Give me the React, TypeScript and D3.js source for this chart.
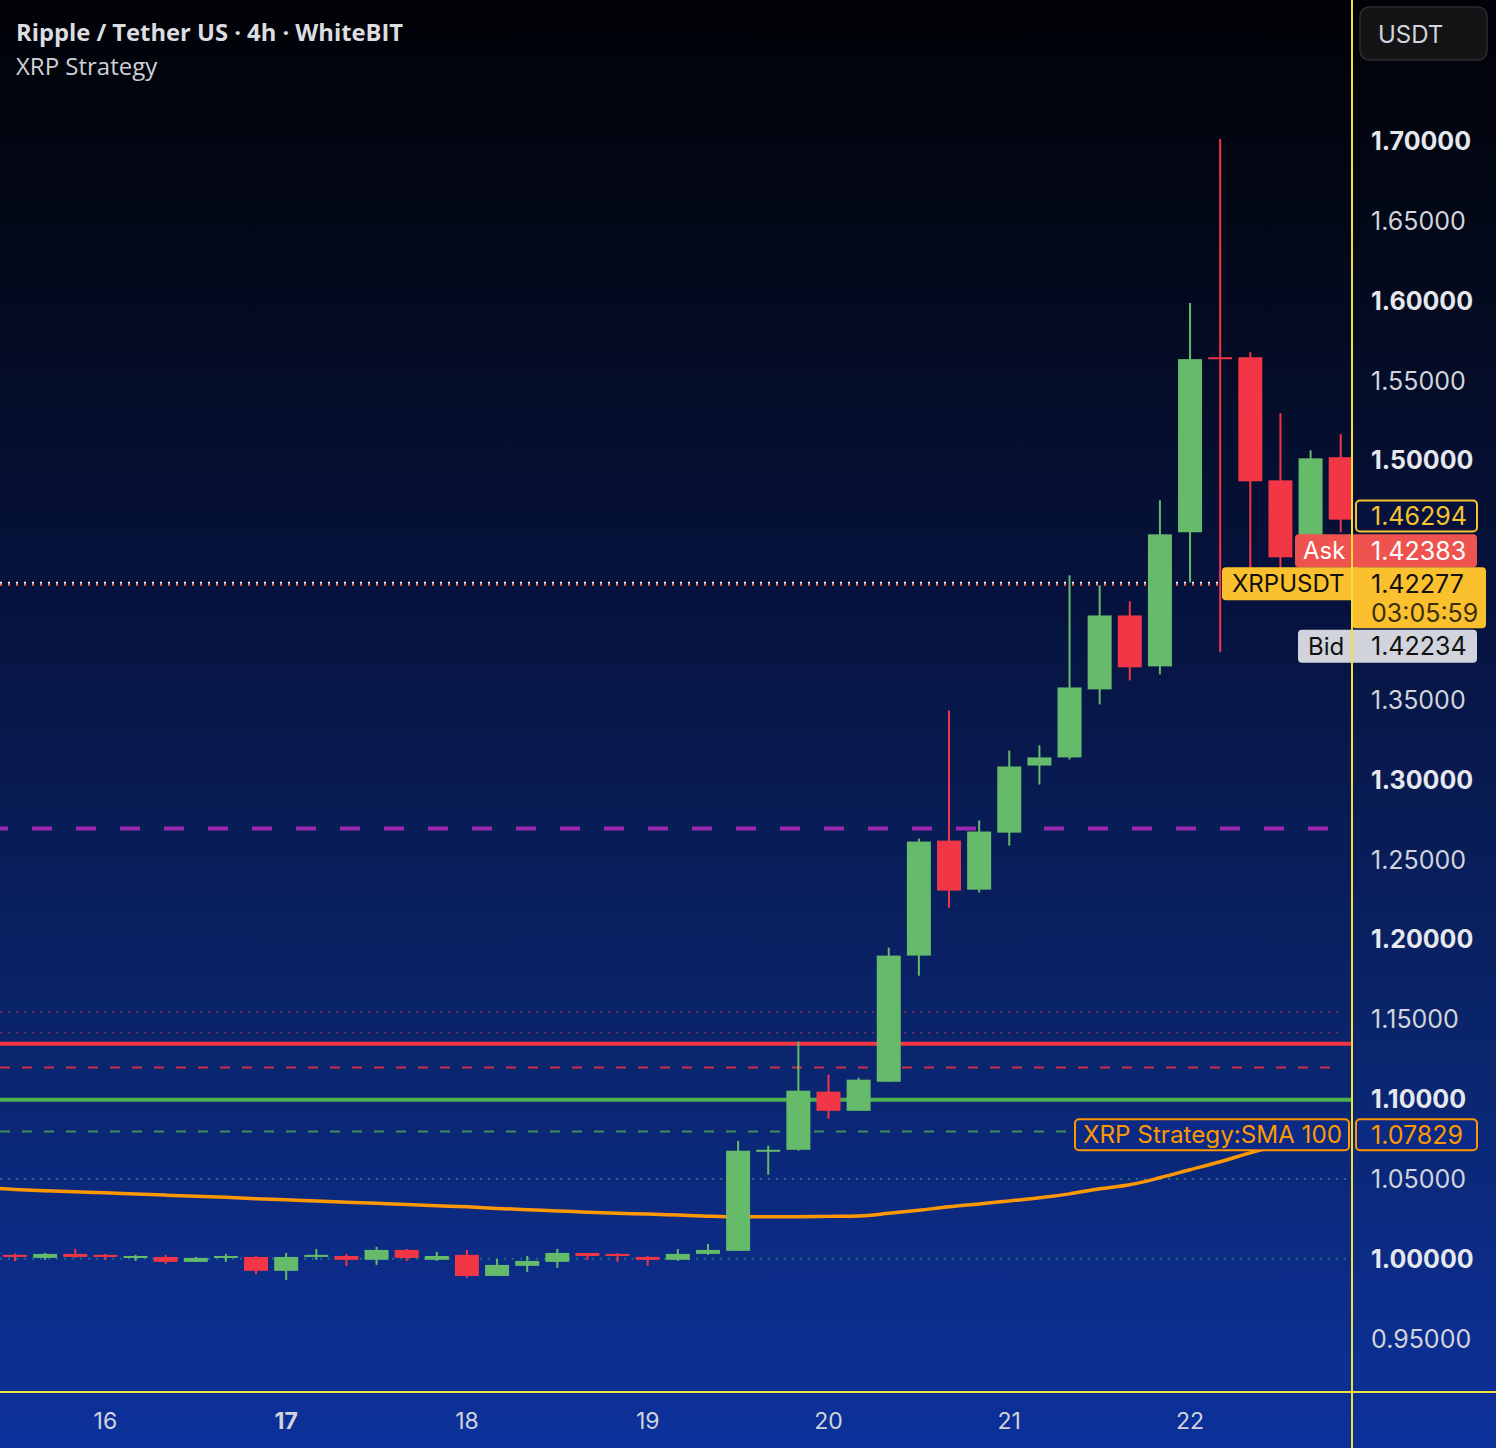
import * as d3 from 'd3';

const VW = 1496;
const VH = 1448;
const PLOT_R = 1352;
const PLOT_B = 1392;

// 4h candles, index 0 = 15th 12:00
const OPEN = [
  1.0025, 1.0006, 1.0031, 1.0025, 1.0006, 1.0012, 0.9981, 1.0006, 1.0012, 0.9925,
  1.0012, 1.0018, 0.9994, 1.0056, 0.9994, 1.0025, 0.9893, 0.9956, 0.9981, 1.0037,
  1.0031, 1.0012, 0.9994, 1.0031, 1.0050, 1.0671, 1.0683, 1.1047, 1.0927, 1.1109,
  1.1899, 1.2619, 1.2312, 1.2669, 1.3089, 1.3140, 1.3566, 1.4029, 1.3710, 1.4550,
  1.5646, 1.5646, 1.4875, 1.4400, 1.5020,
];
const HIGH = [
  1.0033, 1.0037, 1.0062, 1.0031, 1.0025, 1.0025, 1.0012, 1.0031, 1.0018, 1.0037,
  1.0062, 1.0031, 1.0075, 1.0062, 1.0044, 1.0056, 1.0000, 1.0018, 1.0062, 1.0037,
  1.0037, 1.0018, 1.0062, 1.0094, 1.0739, 1.0708, 1.1360, 1.1153, 1.1134, 1.1949,
  1.2632, 1.3434, 1.2745, 1.3183, 1.3215, 1.4280, 1.4217, 1.4117, 1.4750, 1.5985,
  1.7013, 1.5678, 1.5295, 1.5063, 1.5164,
];
const LOW = [
  0.9987, 0.9994, 1.0006, 0.9994, 0.9987, 0.9968, 0.9981, 0.9981, 0.9906, 0.9868,
  0.9994, 0.9956, 0.9962, 0.9987, 0.9987, 0.9881, 0.9893, 0.9918, 0.9944, 0.9994,
  0.9981, 0.9956, 0.9987, 1.0025, 1.0050, 1.0527, 1.0677, 1.0877, 1.0927, 1.1109,
  1.1773, 1.2199, 1.2294, 1.2588, 1.2970, 1.3127, 1.3472, 1.3622, 1.3660, 1.4236,
  1.3798, 1.4324, 1.4324, 1.4380, 1.4550,
];
const CLOSE = [
  1.0012, 1.0031, 1.0012, 1.0012, 1.0018, 0.9981, 1.0006, 1.0018, 0.9925, 1.0012,
  1.0025, 0.9994, 1.0056, 1.0006, 1.0018, 0.9893, 0.9962, 0.9987, 1.0037, 1.0018,
  1.0018, 0.9994, 1.0031, 1.0056, 1.0677, 1.0683, 1.1053, 1.0927, 1.1122, 1.1899,
  1.2613, 1.2306, 1.2676, 1.3083, 1.3140, 1.3578, 1.4029, 1.3704, 1.4537, 1.5634,
  1.5634, 1.4869, 1.4393, 1.5013, 1.4629,
];

// SMA 100, one value per candle, starting one bar before the first visible candle
const SMA = [
  1.0445,
  1.0435, 1.0427, 1.0420, 1.0414, 1.0406, 1.0399, 1.0392, 1.0385, 1.0377, 1.0370,
  1.0363, 1.0355, 1.0348, 1.0341, 1.0333, 1.0326, 1.0316, 1.0308, 1.0300, 1.0292,
  1.0285, 1.0281, 1.0274, 1.0267, 1.0263, 1.0263, 1.0264, 1.0266, 1.0269, 1.0285,
  1.0304, 1.0326, 1.0344, 1.0363, 1.0382, 1.0407, 1.0439, 1.0464, 1.0508, 1.0558,
  1.0608, 1.0664, 1.0714, 1.0752, 1.0783,
];

// 1.40 and 1.45 sit under the price tags, so they are not shown
const PRICE_TICKS = [0.95, 1.0, 1.05, 1.1, 1.15, 1.2, 1.25, 1.3, 1.35, 1.5, 1.55, 1.6, 1.65, 1.7];
const DAY_LABELS = ['16', '17', '18', '19', '20', '21', '22'];
const DAY_INDEX = [3, 9, 15, 21, 27, 33, 39];

const LEVEL_PURPLE = 1.2695;
const LEVEL_DOT_1 = 1.1548;
const LEVEL_DOT_2 = 1.1416;
const LEVEL_RED = 1.1347;
const LEVEL_RED_DASH = 1.1199;
const LEVEL_GREEN = 1.0996;
const LEVEL_GREEN_DASH = 1.0798;
const LEVEL_TEAL = [1.05, 1.0];

const LAST_PRICE = 1.46294;
const ASK = 1.42383;
const XRPUSDT = 1.42277;
const BID = 1.42234;
const SMA_LAST = 1.07829;

const GREEN = '#66bb6a';
const RED = '#f23645';
const YELLOW = '#f5de3c';
const ORANGE = '#ff9800';
const AXIS_TXT = '#d1d4dc';
const NUM_FONT = 'Inter, "Noto Sans", sans-serif';
const TITLE_FONT = '"Open Sans", "Noto Sans", sans-serif';
const FS = 25;

const x = d3.scaleLinear().domain([0, 44]).range([15, 1340.7]);
const y = d3.scaleLinear().domain([0.95, 1.7]).range([1338.7, 141]);
const BODY_W = 24;

const smaLine = d3.line<number>()
  .x((_, i) => x(i - 1))
  .y(d => y(d))
  .curve(d3.curveMonotoneX);

const fmt = d3.format('.5f');

function Tag({ left, right, cy, fill, h = 33, stroke }: {
  left: number; right: number; cy: number; fill: string; h?: number; stroke?: string;
}) {
  return (
    <rect x={left} y={cy - h / 2} width={right - left} height={h} rx={4}
      fill={fill} stroke={stroke ?? 'none'} strokeWidth={stroke ? 2 : 0} />
  );
}

function Label({ x0, cy, fill, children, weight = 400, size = FS }: {
  x0: number; cy: number; fill: string; children: React.ReactNode; weight?: number; size?: number;
}) {
  return (
    <text x={x0} y={cy} dy="0.36em" fontSize={size} fontFamily={NUM_FONT} fontWeight={weight} fill={fill}>
      {children}
    </text>
  );
}

export default function App() {
  const idx = d3.range(OPEN.length);
  const lastY = y(LAST_PRICE) - 3.5;
  const xrpY = y(XRPUSDT);
  const askY = xrpY - 33;
  const bidY = xrpY + 62.5;
  const smaY = y(SMA_LAST) + 1;
  return (
    <svg width={VW} height={VH} viewBox={`0 0 ${VW} ${VH}`}
      style={{ position: 'absolute', left: 0, top: 0, display: 'block' }}>
      <defs>
        <linearGradient id="bg" x1="0" y1="0" x2="0" y2={VH} gradientUnits="userSpaceOnUse">
          <stop offset="0" stopColor="#010207" />
          <stop offset="0.15" stopColor="#030817" />
          <stop offset="0.42" stopColor="#06133f" />
          <stop offset="0.7" stopColor="#0a2469" />
          <stop offset="1" stopColor="#0c319b" />
        </linearGradient>
        <clipPath id="plot">
          <rect x={0} y={0} width={PLOT_R} height={PLOT_B} />
        </clipPath>
      </defs>
      <rect x={0} y={0} width={VW} height={VH} fill="url(#bg)" />

      <g clipPath="url(#plot)">
        {/* horizontal levels */}
        {LEVEL_TEAL.map(p => (
          <line key={p} x1={0} x2={PLOT_R} y1={y(p)} y2={y(p)} stroke="#1d6a78" strokeWidth={2} strokeDasharray="2 6" />
        ))}
        <line x1={0} x2={1340} y1={y(LEVEL_DOT_1)} y2={y(LEVEL_DOT_1)} stroke="#7a2a5e" strokeWidth={2} strokeDasharray="2 6" />
        <line x1={0} x2={1340} y1={y(LEVEL_DOT_2)} y2={y(LEVEL_DOT_2)} stroke="#7a2a5e" strokeWidth={2} strokeDasharray="2 6" />
        <line x1={0} x2={PLOT_R} y1={y(LEVEL_RED)} y2={y(LEVEL_RED)} stroke={RED} strokeWidth={4} />
        <line x1={0} x2={1340} y1={y(LEVEL_RED_DASH)} y2={y(LEVEL_RED_DASH)} stroke="#c8304f" strokeWidth={2} strokeDasharray="10 12" />
        <line x1={0} x2={PLOT_R} y1={y(LEVEL_GREEN)} y2={y(LEVEL_GREEN)} stroke="#4caf50" strokeWidth={4} />
        <line x1={0} x2={1070} y1={y(LEVEL_GREEN_DASH)} y2={y(LEVEL_GREEN_DASH)} stroke="#3e8c62" strokeWidth={2} strokeDasharray="10 12" />
        <line x1={0} x2={1340} y1={y(LEVEL_PURPLE)} y2={y(LEVEL_PURPLE)} stroke="#9c27b0" strokeWidth={4} strokeDasharray="20 24" strokeDashoffset={12} />
        <line x1={0} x2={1222} y1={xrpY - 1} y2={xrpY - 1} stroke="#f4f0ee" strokeWidth={2} strokeDasharray="2 6" />
        <line x1={0} x2={1222} y1={xrpY + 1} y2={xrpY + 1} stroke="#f2704a" strokeWidth={2} strokeDasharray="2 6" />

        {/* SMA 100 */}
        <path d={smaLine(SMA) ?? ''} fill="none" stroke={ORANGE} strokeWidth={3.5} />

        {/* candles */}
        {idx.map(i => {
          const up = CLOSE[i] >= OPEN[i];
          const c = up ? GREEN : RED;
          const top = y(Math.max(OPEN[i], CLOSE[i]));
          const bot = y(Math.min(OPEN[i], CLOSE[i]));
          return (
            <g key={i}>
              <line x1={x(i)} x2={x(i)} y1={y(HIGH[i])} y2={y(LOW[i])} stroke={c} strokeWidth={2} />
              <rect x={x(i) - BODY_W / 2} y={top} width={BODY_W} height={Math.max(bot - top, 2)} fill={c} />
            </g>
          );
        })}
      </g>

      {/* frame lines */}
      <line x1={PLOT_R} x2={PLOT_R} y1={0} y2={VH} stroke={YELLOW} strokeWidth={2} />
      <line x1={0} x2={VW} y1={PLOT_B} y2={PLOT_B} stroke={YELLOW} strokeWidth={2} />

      {/* price axis */}
      {PRICE_TICKS.map(t => {
        const major = Math.abs(t * 10 - Math.round(t * 10)) < 1e-6;
        return (
          <Label key={t} x0={1371} cy={y(t)} weight={major ? 700 : 400} fill={major ? '#e6e8ee' : AXIS_TXT}>
            {fmt(t)}
          </Label>
        );
      })}

      {/* time axis */}
      {DAY_LABELS.map((d, i) => (
        <text key={d} x={x(DAY_INDEX[i])} y={1421} dy="0.36em" textAnchor="middle" fontSize={23}
          fontFamily={NUM_FONT} fontWeight={d === '17' ? 700 : 400} fill={AXIS_TXT}>
          {d}
        </text>
      ))}

      {/* title */}
      <text x={16} y={41} fontSize={24} fontWeight={700} fontFamily={TITLE_FONT} fill="#dcdde0"
        textLength={387} lengthAdjust="spacingAndGlyphs">
        Ripple / Tether US · 4h · WhiteBIT
      </text>
      <text x={16} y={75} fontSize={24} fontFamily={TITLE_FONT} fill="#cfd0d4">
        XRP Strategy
      </text>

      {/* currency button */}
      <rect x={1360} y={7} width={127} height={53} rx={9} fill="#141416" stroke="#2c2c30" strokeWidth={1.5} />
      <text x={1378} y={34} dy="0.36em" fontSize={24} fontFamily={NUM_FONT} fill={AXIS_TXT}>USDT</text>

      {/* SMA label */}
      <Tag left={1075} right={1349} cy={smaY} fill="#0b2a85" stroke={ORANGE} h={31} />
      <text x={1083} y={smaY} dy="0.36em" fontSize={24} fontFamily={NUM_FONT} fill={ORANGE}
        textLength={259} lengthAdjust="spacingAndGlyphs">
        XRP Strategy:SMA 100
      </text>
      <Tag left={1356} right={1477} cy={smaY} fill="#0b2a85" stroke={ORANGE} h={31} />
      <Label x0={1371} cy={smaY} fill={ORANGE}>{fmt(SMA_LAST)}</Label>

      {/* last price box */}
      <Tag left={1356} right={1477} cy={lastY} fill="#06123d" stroke="#f7c32f" h={31} />
      <Label x0={1371} cy={lastY} fill="#f7c32f">{fmt(LAST_PRICE)}</Label>

      {/* Ask */}
      <Tag left={1295} right={1477} cy={askY} fill="#ef5350" />
      <Label x0={1303} cy={askY} fill="#fff" size={24}>Ask</Label>
      <Label x0={1371} cy={askY} fill="#fff">{fmt(ASK)}</Label>

      {/* XRPUSDT */}
      <Tag left={1222} right={1360} cy={xrpY} fill="#fbc02d" />
      <rect x={1352} y={xrpY - 16.5} width={134} height={61} rx={4} fill="#fbc02d" />
      <Label x0={1232} cy={xrpY} fill="#111" size={24}>XRPUSDT</Label>
      <Label x0={1371} cy={xrpY} fill="#111">{fmt(XRPUSDT)}</Label>
      <Label x0={1371} cy={xrpY + 29} fill="#3a2f0a">03:05:59</Label>

      {/* Bid */}
      <Tag left={1298} right={1477} cy={bidY} fill="#d1d4dc" />
      <Label x0={1308} cy={bidY} fill="#111" size={24}>Bid</Label>
      <Label x0={1371} cy={bidY} fill="#111">{fmt(BID)}</Label>

      <line x1={PLOT_R} x2={PLOT_R} y1={lastY + 16} y2={bidY + 17} stroke={YELLOW} strokeWidth={2} />
    </svg>
  );
}
